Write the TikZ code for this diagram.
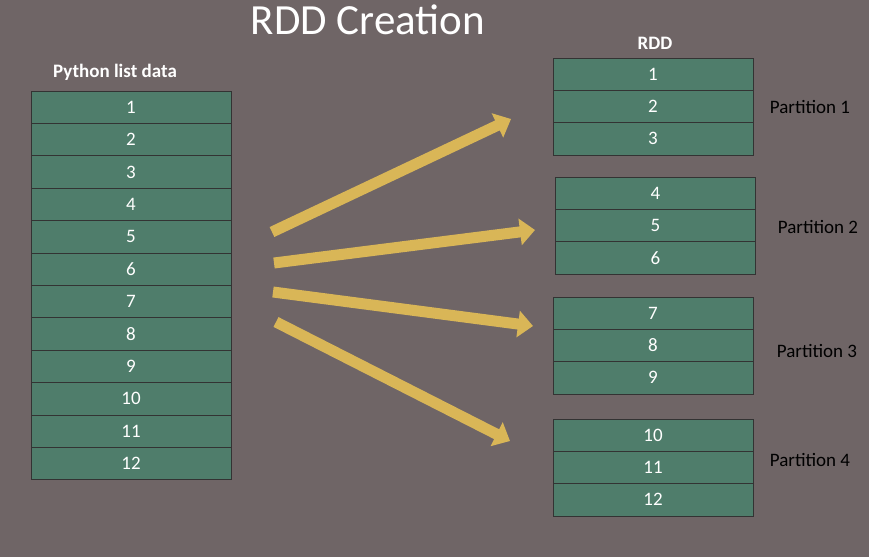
\documentclass[tikz,border=0pt]{standalone}
\usepackage{fontspec}
\setmainfont{Carlito}
\usetikzlibrary{arrows.meta}
\definecolor{bg}{HTML}{6F6566}
\definecolor{cellc}{HTML}{4F7D6B}
\definecolor{arr}{HTML}{D9B657}
\begin{document}
\begin{tikzpicture}[x=1pt,y=-1pt,
  cell/.style={draw=black!80,line width=0.8pt,fill=cellc,text=white,minimum width=200pt,minimum height=32.4pt,inner sep=0pt,font=\fontsize{19}{19}\selectfont},
  lbl/.style={text=black,font=\fontsize{19}{19}\selectfont},
  bigarrow/.style={draw=arr,line width=11pt,-{Triangle[width=26pt,length=15pt]}}]
\fill[bg] (0,0) rectangle (869,557);
\node[text=white,font=\fontsize{43}{43}\selectfont] (title) at (368,20) {RDD Creation};
\node[text=white,font=\bfseries\fontsize{19}{19}\selectfont] (plabel) at (115,72) {Python list data};
\node[text=white,font=\bfseries\fontsize{19}{19}\selectfont] (rlabel) at (655,43) {RDD};
\foreach \i in {1,...,12}{
  \node[cell] (l\i) at (131,{91+32.4*(\i-0.5)}) {\i};
}
\foreach \i in {1,2,3}{ \node[cell] (r\i) at (653,{58+32.3*(\i-0.5)}) {\i}; }
\foreach \i/\j in {4/1,5/2,6/3}{ \node[cell] (r\i) at (655.5,{177+32.3*(\j-0.5)}) {\i}; }
\foreach \i/\j in {7/1,8/2,9/3}{ \node[cell] (r\i) at (653,{297+32.3*(\j-0.5)}) {\i}; }
\foreach \i/\j in {10/1,11/2,12/3}{ \node[cell] (r\i) at (653,{419+32.3*(\j-0.5)}) {\i}; }
\node[lbl] (p1) at (810,107) {Partition 1};
\node[lbl] (p2) at (818,227) {Partition 2};
\node[lbl] (p3) at (817,351) {Partition 3};
\node[lbl] (p4) at (810,460) {Partition 4};
\coordinate (a1s) at (272,232); \coordinate (a1e) at (511,119);
\coordinate (a2s) at (274,263); \coordinate (a2e) at (535,230);
\coordinate (a3s) at (273,292); \coordinate (a3e) at (533,326);
\coordinate (a4s) at (276,322); \coordinate (a4e) at (510,441);
\draw[bigarrow] (a1s) -- (a1e);
\draw[bigarrow] (a2s) -- (a2e);
\draw[bigarrow] (a3s) -- (a3e);
\draw[bigarrow] (a4s) -- (a4e);
\end{tikzpicture}
\end{document}
